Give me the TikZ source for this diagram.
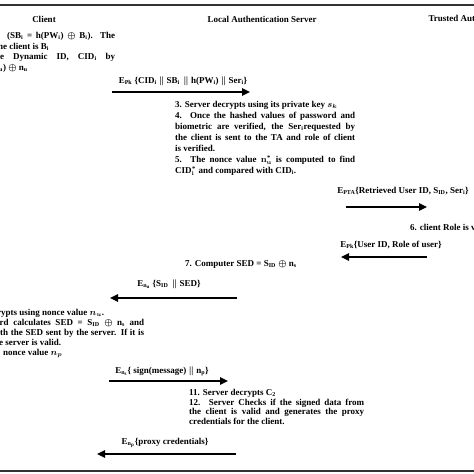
\documentclass[tikz,border=0pt]{standalone}
\usepackage{fontspec}
\setmainfont{Liberation Serif}
\usetikzlibrary{arrows.meta}
\newcommand{\ssub}[1]{\textsubscript{#1}}

\begin{document}
\begin{tikzpicture}[x=1pt, y=-1pt, font=\fontsize{9}{11}\selectfont\bfseries\boldmath,
    >={Triangle[length=8pt,width=7.5pt]},
    msg/.style={->, line width=1.5pt},
    lbl/.style={inner sep=0pt, anchor=base},
    stepbox/.style={inner sep=0pt, align=justify, anchor=north west,
      font=\fontsize{9}{#1}\selectfont\bfseries\boldmath},
    rule/.style={line width=2pt, black!80}]
    \useasboundingbox (0,0) rectangle (474,474);
    \clip (0,0) rectangle (474,474);
    \draw[rule] (-5,5) -- (480,5);
    \draw[rule] (-5,470.5) -- (480,470.5);
    % column headings
    \node (client) at (44,19) {Client};
    \node (las) at (262,19) {Local Authentication Server};
    \node[anchor=west] (ta) at (425,19) {Trusted Authority};
    % client, steps 1 and 2
    \node[stepbox=10.7, text width=123pt] (s12) at (-8,32)
      {\hspace*{15pt}(SB\ssub{i} = h(PW\ssub{i}) $\oplus$ B\ssub{i}). The\linebreak
       \hspace*{3pt}the client is B\ssub{i}\\
       the Dynamic ID, CID\ssub{i} by\linebreak
       \hspace*{2pt}n\ssub{u}) $\oplus$ n\ssub{u}};
    \coordinate (m1a) at (112,92);
    \coordinate (m1b) at (250,92);
    \draw[msg] (m1a) -- (m1b);
    \node[lbl] (m1) at (183,83)
      {E\ssub{Pk} \{CID\ssub{i} $\|$ SB\ssub{i} \,$\|$ h(PW\ssub{i}) $\|$ Ser\ssub{i}\}};
    % server, steps 3 to 5
    \node[stepbox=11, text width=180pt] (s35) at (175,101)
      {3. Server decrypts using its private key $s_k$\\
       4. Once the hashed values of password and\linebreak
       biometric are verified, the Ser\ssub{i}requested by\linebreak
       the client is sent to the TA and role of client\linebreak
       is verified.\\
       5. The nonce value $\mathbf{n}^{*}_{\mathbf{u}}$ is computed to find\linebreak
       CID$^{*}_{\mathbf{i}}$ and compared with CID\ssub{i}.};
    \coordinate (m2a) at (346,207);
    \coordinate (m2b) at (427,207);
    \draw[msg] (m2a) -- (m2b);
    \node[lbl] (m2) at (403,193)
      {E\ssub{PTA}\{Retrieved User ID, S\ssub{ID}, Ser\ssub{i}\}};
    \node[lbl, anchor=base west] (s6) at (410,230) {6. client Role is verified};
    \coordinate (m3a) at (427,257);
    \coordinate (m3b) at (341,257);
    \draw[msg] (m3a) -- (m3b);
    \node[lbl] (m3) at (391,247) {E\ssub{Pk}\{User ID, Role of user\}};
    \node[lbl, anchor=base west] (s7) at (185,266)
      {7. Computer SED = S\ssub{ID} $\oplus$ n\ssub{s}};
    \coordinate (m4a) at (237,298);
    \coordinate (m4b) at (110,298);
    \draw[msg] (m4a) -- (m4b);
    \node[lbl] (m4) at (169,286) {E\ssub{n\ssub{u}} \{S\ssub{ID} \,$\|$ SED\}};
    % client, steps 8 to 10
    \node[stepbox=10, text width=156pt] (s810) at (-12,309)
      {\hspace*{-4pt}decrypts using nonce value $n_u$.\\
       \hspace*{3pt}card calculates SED = S\ssub{ID} $\oplus$ n\ssub{s} and\linebreak
       \hspace*{3pt}with the SED sent by the server. If it is\linebreak
       \hspace*{3pt}the server is valid.\\
       \hspace*{15pt}nonce value $n_p$};
    \coordinate (m5a) at (109,381);
    \coordinate (m5b) at (228,381);
    \draw[msg] (m5a) -- (m5b);
    \node[lbl] (m5) at (162,373) {E\ssub{n\ssub{s}}\{ sign(message) $\|$ n\ssub{p}\}};
    % server, steps 11 and 12
    \node[stepbox=9.7, text width=175pt] (s1112) at (189,389)
      {11. Server decrypts C\ssub{2}\\
       12. Server Checks if the signed data from\linebreak
       the client is valid and generates the proxy\linebreak
       credentials for the client.};
    \coordinate (m6a) at (236,454);
    \coordinate (m6b) at (97,454);
    \draw[msg] (m6a) -- (m6b);
    \node[lbl] (m6) at (165,444) {E\ssub{n\ssub{p}}\{proxy credentials\}};
\end{tikzpicture}
\end{document}
